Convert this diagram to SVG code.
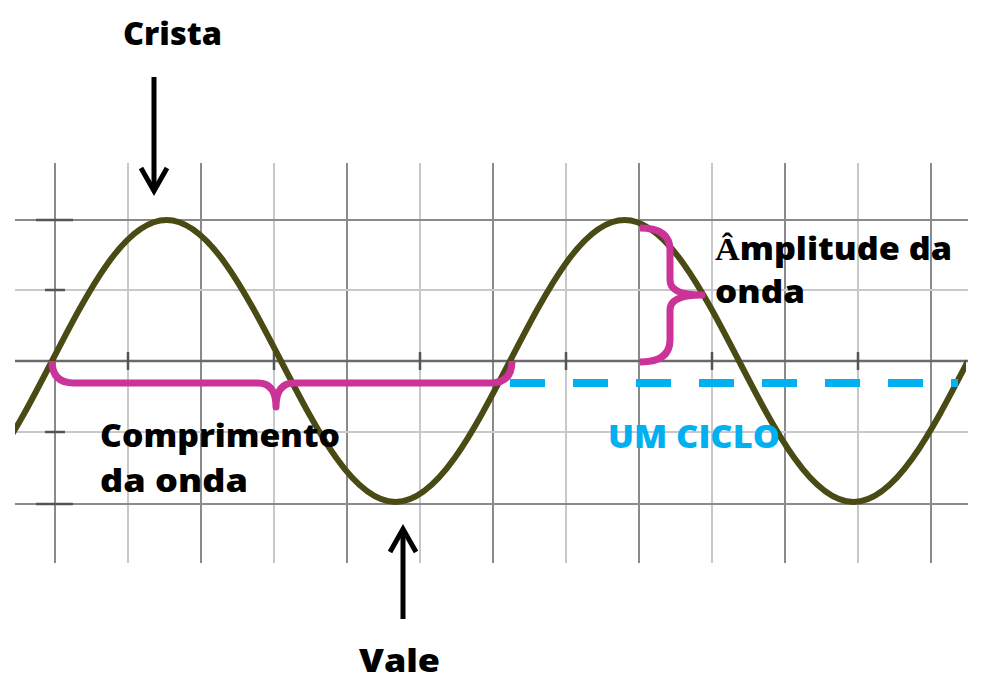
<svg xmlns="http://www.w3.org/2000/svg" width="986" height="693" viewBox="0 0 986 693">
<style>
.maj{stroke:#8a8a8a;stroke-width:2;fill:none}
.min{stroke:#c8c8c8;stroke-width:2;fill:none}
.axis{stroke:#6a6a6a;stroke-width:2.5;fill:none}
.tick{stroke:#555;stroke-width:2.5;fill:none}
.wave{stroke:#4a4a14;stroke-width:6;fill:none;stroke-linejoin:round}
.brace{stroke:#cc3399;stroke-width:7;fill:none;stroke-linecap:butt;stroke-linejoin:round}
.cyc{stroke:#00b0f0;stroke-width:8;fill:none;stroke-dasharray:35 28}
.arr{stroke:#000;stroke-width:5;fill:none}
.lbl{font-family:"Open Sans","Liberation Sans",sans-serif;font-weight:800;font-size:32px;fill:#000}
.blue{fill:#00b0f0}
</style>
<defs>
<marker id="chev" markerUnits="userSpaceOnUse" orient="auto" refX="0" refY="0" overflow="visible">
<path d="M-23,-13 L0,0 L-23,13" stroke="#000" stroke-width="5" fill="none" stroke-linejoin="miter"/>
</marker>
<clipPath id="wclip"><rect x="15" y="150" width="951" height="420"/></clipPath>
</defs>
<rect width="986" height="693" fill="#fff"/>
<g id="grid">
<path class="min" d="M128,163V563M274,163V563M420,163V563M566,163V563M712,163V563M858,163V563"/>
<path class="maj" d="M55,163V563M201,163V563M347,163V563M493,163V563M639,163V563M785,163V563M931,163V563"/>
<path class="min" d="M15,290H968M15,432H968"/>
<path class="maj" d="M15,220H968M15,504H968"/>
<path class="axis" d="M15,361H968"/>
<path class="tick" d="M36,220H73M45,290H65M45,432H65M36,504H73M128,352V370M274,352V370M420,352V370M566,352V370M712,352V370M858,352V370"/>
</g>
<g id="wave">
<path class="wave" clip-path="url(#wclip)" d="M-62.5,502 C-21.07,502 14.65,433.2 52,361 C89.35,288.8 125.07,220 166.5,220 C207.93,220 243.65,288.8 281,361 C318.35,433.2 354.07,502 395.5,502 C436.93,502 472.65,433.2 510,361 C547.35,288.8 583.07,220 624.5,220 C665.93,220 701.65,288.8 739,361 C776.35,433.2 812.07,502 853.5,502 C894.93,502 930.65,433.2 968,361"/>
</g>
<g id="connectors">
<path class="arr" d="M154,77V191" marker-end="url(#chev)"/>
<path class="arr" d="M403,619V529" marker-end="url(#chev)"/>
</g>
<g id="comprimento">
<path class="brace" d="M52,361 Q52,383 74,383 L258,383 Q276,383 276,407 Q276,383 294,383 L490,383 Q512,383 512,361"/>
<text class="lbl" x="100" y="447" textLength="240" lengthAdjust="spacingAndGlyphs">Comprimento</text>
<text class="lbl" x="100" y="492" textLength="148" lengthAdjust="spacingAndGlyphs">da onda</text>
</g>
<g id="ciclo">
<path class="cyc" d="M510,383H958"/>
<text class="lbl blue" x="608" y="448" textLength="172" lengthAdjust="spacingAndGlyphs">UM CICLO</text>
</g>
<g id="amplitude">
<path class="brace" d="M640,228 Q670,228 670,250 L670,280 Q670,295 702,295 Q670,295 670,310 L670,340 Q670,362 640,362"/>
<text class="lbl" x="715" y="260" textLength="237" lengthAdjust="spacingAndGlyphs"><tspan font-family="Liberation Serif,serif" font-weight="700">Â</tspan>mplitude da</text>
<text class="lbl" x="715" y="303" textLength="90" lengthAdjust="spacingAndGlyphs">onda</text>
</g>
<g id="crista">
<text class="lbl" x="123" y="45" textLength="99" lengthAdjust="spacingAndGlyphs">Crista</text>
</g>
<g id="vale">
<text class="lbl" x="359" y="672" textLength="81" lengthAdjust="spacingAndGlyphs">Vale</text>
</g>
</svg>
